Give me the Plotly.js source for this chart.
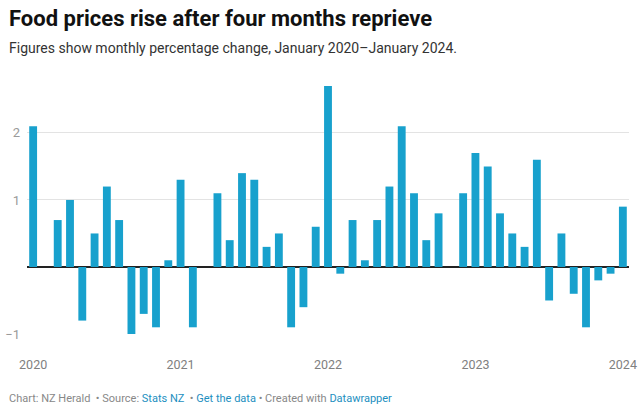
<!DOCTYPE html>
<html>
<head>
<meta charset="utf-8">
<script src="https://cdn.plot.ly/plotly-3.0.1.min.js"></script>
<style>
html,body{margin:0;padding:0;background:#fff;}
#chart{width:642px;height:409px;}
</style>
</head>
<body>
<div id="chart"></div>
<script>
const months = [
  "Jan 2020","Feb 2020","Mar 2020","Apr 2020","May 2020","Jun 2020","Jul 2020","Aug 2020","Sep 2020","Oct 2020","Nov 2020","Dec 2020",
  "Jan 2021","Feb 2021","Mar 2021","Apr 2021","May 2021","Jun 2021","Jul 2021","Aug 2021","Sep 2021","Oct 2021","Nov 2021","Dec 2021",
  "Jan 2022","Feb 2022","Mar 2022","Apr 2022","May 2022","Jun 2022","Jul 2022","Aug 2022","Sep 2022","Oct 2022","Nov 2022","Dec 2022",
  "Jan 2023","Feb 2023","Mar 2023","Apr 2023","May 2023","Jun 2023","Jul 2023","Aug 2023","Sep 2023","Oct 2023","Nov 2023","Dec 2023",
  "Jan 2024"
];
const changePct = [
  2.1, 0.0, 0.7, 1.0, -0.8, 0.5, 1.2, 0.7, -1.0, -0.7, -0.9, 0.1,
  1.3, -0.9, 0.0, 1.1, 0.4, 1.4, 1.3, 0.3, 0.5, -0.9, -0.6, 0.6,
  2.7, -0.1, 0.7, 0.1, 0.7, 1.2, 2.1, 1.1, 0.4, 0.8, 0.0, 1.1,
  1.7, 1.5, 0.8, 0.5, 0.3, 1.6, -0.5, 0.5, -0.4, -0.9, -0.2, -0.1,
  0.9
];
const yearTickVals = ["Jan 2020","Jan 2021","Jan 2022","Jan 2023","Jan 2024"];
const yearTickText = ["2020","2021","2022","2023","2024"];
const yTickVals = [-1, 0, 1, 2];
const yTickText = ["\u22121", "", "1", "2"];

const L = 26.85, R = 12.9, T = 86.4, B = 74.7;
const W = 642, H = 409;
const pw = W - L - R, ph = H - T - B;
const px = x => (x - L) / pw;
const py = y => (H - B - y) / ph;

const trace = {
  type: "bar",
  x: months,
  y: changePct,
  marker: {color: "#18a1cd", line: {width: 0}},
  hoverinfo: "x+y"
};

const layout = {
  width: W, height: H,
  margin: {l: L, r: R, t: T, b: B, pad: 0},
  paper_bgcolor: "#fff",
  plot_bgcolor: "#fff",
  bargap: 0.36,
  showlegend: false,
  font: {family: "Roboto, sans-serif"},
  xaxis: {
    type: "category",
    range: [-0.5, 48.5],
    tickvals: yearTickVals,
    ticktext: yearTickText,
    showgrid: false,
    zeroline: false,
    showline: false,
    ticks: "",
    ticklabelstandoff: 21,
    tickfont: {family: "Roboto, sans-serif", size: 12.5, color: "#808080"},
    fixedrange: true
  },
  yaxis: {
    range: [-1.0, 2.7],
    tickvals: yTickVals,
    ticktext: yTickText,
    showgrid: true,
    gridcolor: "#e3e3e3",
    gridwidth: 1,
    zeroline: true,
    zerolinecolor: "#222",
    zerolinewidth: 1.5,
    showline: false,
    ticks: "",
    ticklabelstandoff: 6,
    tickfont: {family: "Roboto, sans-serif", size: 13, color: "#9a9a9a"},
    fixedrange: true
  },
  annotations: [
    {
      xref: "paper", yref: "paper", x: px(7), y: py(18.5),
      xanchor: "left", yanchor: "middle", showarrow: false,
      text: "<b>Food prices rise after four months reprieve</b>",
      font: {family: "Roboto, sans-serif", size: 22, color: "#111"}
    },
    {
      xref: "paper", yref: "paper", x: px(7), y: py(48),
      xanchor: "left", yanchor: "middle", showarrow: false,
      text: "Figures show monthly percentage change, January 2020\u2013January 2024.",
      font: {family: "Roboto, sans-serif", size: 14, color: "#333"}
    },
    {
      xref: "paper", yref: "paper", x: px(7), y: py(399),
      xanchor: "left", yanchor: "middle", showarrow: false,
      text: "Chart: NZ Herald  \u2022 Source: <span style=\"color:#1d8fbf\">Stats NZ</span>  \u2022 <span style=\"color:#1d8fbf\">Get the data</span> \u2022 Created with <span style=\"color:#1d8fbf\">Datawrapper</span>",
      font: {family: "Roboto, sans-serif", size: 11, color: "#888"}
    }
  ]
};

Plotly.newPlot("chart", [trace], layout, {displayModeBar: false, staticPlot: true});
</script>
</body>
</html>
